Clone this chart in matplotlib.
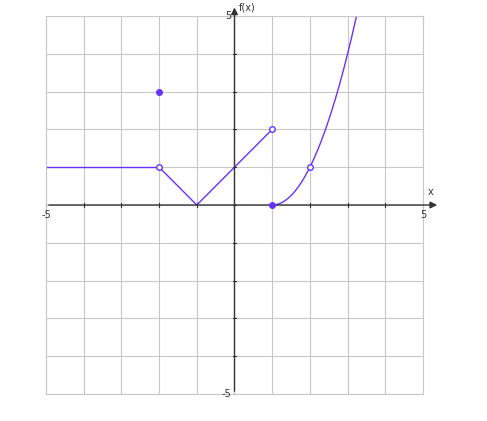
import numpy as np
import matplotlib.pyplot as plt

# piecewise pieces
left_x = [-5, -2]
left_y = [1, 1]
mid_x = [-2, -1, 1]
mid_y = [1, 0, 2]
closed_pts = [(-2, 3), (1, 0)]
open_pts = [(-2, 1), (1, 2), (2, 1)]
ticks = [-5, -4, -3, -2, -1, 0, 1, 2, 3, 4, 5]

col = '#6633ff'

fig = plt.figure(figsize=(4.87, 4.21), dpi=100)
ax = fig.add_axes([46/487, 27/421, 377/487, 378/421])
ax.set_xlim(-5, 5)
ax.set_ylim(-5, 5)
ax.set_xticks(ticks)
ax.set_yticks(ticks)
ax.grid(color='#c8c8c8', lw=0.8)
ax.tick_params(length=0, labelbottom=False, labelleft=False)
for s in ax.spines.values():
    s.set_color('#c8c8c8')
    s.set_linewidth(0.8)

# axes through origin with arrows
ax.annotate('', xy=(5.45, 0), xytext=(-5, 0), annotation_clip=False,
            arrowprops=dict(arrowstyle='-|>', color='#333333', lw=1, mutation_scale=10))
ax.annotate('', xy=(0, 5.3), xytext=(0, -5), annotation_clip=False,
            arrowprops=dict(arrowstyle='-|>', color='#333333', lw=1, mutation_scale=10))
for t in ticks:
    ax.plot([t, t], [-0.05, 0.05], color='#333333', lw=0.8, clip_on=False)
    ax.plot([-0.05, 0.05], [t, t], color='#333333', lw=0.8, clip_on=False)
ax.text(-5, -0.12, '-5', ha='center', va='top', fontsize=7, color='#333333')
ax.text(5, -0.12, '5', ha='center', va='top', fontsize=7, color='#333333')
ax.text(-0.08, 5, '5', ha='right', va='center', fontsize=7, color='#333333')
ax.text(-0.08, -5, '-5', ha='right', va='center', fontsize=7, color='#333333')
ax.text(5.2, 0.2, 'x', ha='center', va='bottom', fontsize=7, color='#333333')
ax.text(0.12, 5.22, 'f(x)', ha='left', va='center', fontsize=7, color='#333333')

ax.plot(left_x, left_y, color=col, lw=1)
ax.plot(mid_x, mid_y, color=col, lw=1)
xs = np.linspace(1, 3.3, 200)
ax.plot(xs, (xs - 1) ** 2, color=col, lw=1)

for px, py in closed_pts:
    ax.plot(px, py, 'o', ms=4, color=col, zorder=5)
for px, py in open_pts:
    ax.plot(px, py, 'o', ms=4, mfc='white', mec=col, mew=1, zorder=5)

fig.savefig('out.png', dpi=100)
